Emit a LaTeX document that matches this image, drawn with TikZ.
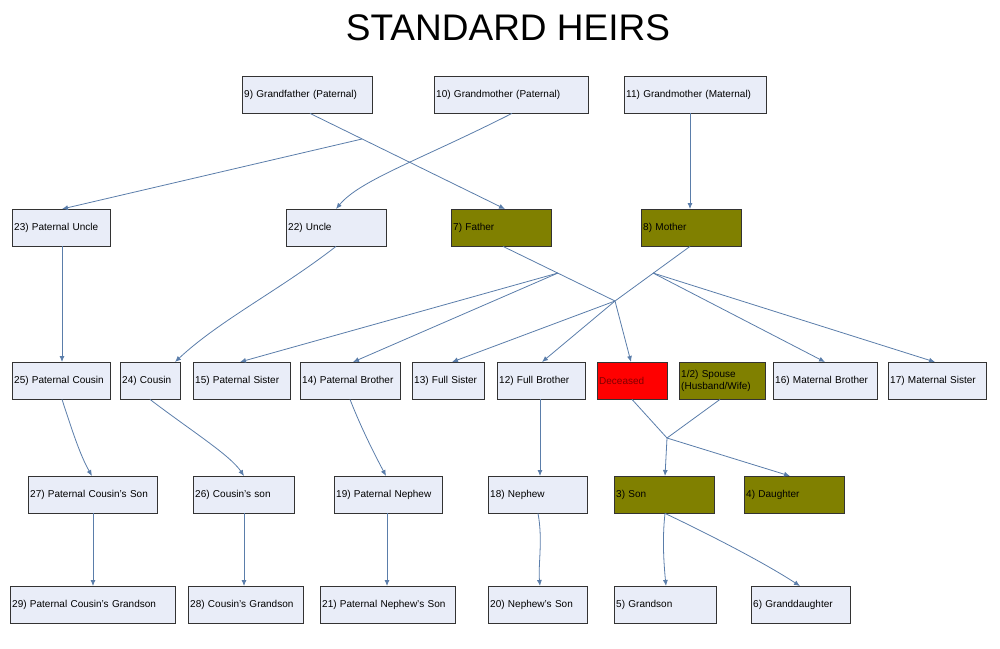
\documentclass[tikz,border=0pt]{standalone}
\usepackage{fontspec}
\setmainfont{Liberation Sans}
\usetikzlibrary{arrows.meta}
\definecolor{boxfill}{HTML}{E9EDF8}
\definecolor{olivef}{HTML}{808000}
\definecolor{arrc}{HTML}{5A7DAA}
\begin{document}
\begin{tikzpicture}[x=1pt,y=-1pt,
  box/.style={draw=black!80,fill=boxfill,anchor=north west,minimum height=37pt,inner xsep=2pt,inner ysep=0pt,align=left,font=\fontsize{10}{12}\selectfont},
  ol/.style={box,fill=olivef},
  arr/.style={draw=arrc,line width=0.8pt,-{Latex[length=6pt,width=5pt]}},
  ln/.style={draw=arrc,line width=0.8pt}]
\useasboundingbox (0,0) rectangle (1000,648);
\node[font=\fontsize{37}{40}\selectfont] (title) at (508,28) {STANDARD HEIRS};
% row 1
\node[box,text width=126pt] (gf) at (242,76) {9) Grandfather (Paternal)};
\node[box,text width=150pt] (gmp) at (434,76) {10) Grandmother (Paternal)};
\node[box,text width=138pt] (gmm) at (624,76) {11) Grandmother (Maternal)};
% row 2
\node[box,text width=94pt] (pu) at (12,209) {23) Paternal Uncle};
\node[box,text width=96pt] (un) at (286,209) {22) Uncle};
\node[ol,text width=96pt] (fa) at (451,209) {7) Father};
\node[ol,text width=96pt] (mo) at (641,209) {8) Mother};
% row 3
\node[box,text width=94pt] (pc) at (12,362) {25) Paternal Cousin};
\node[box,text width=56pt] (co) at (120,362) {24) Cousin};
\node[box,text width=93pt] (ps) at (193,362) {15) Paternal Sister};
\node[box,text width=96pt] (pb) at (300,362) {14) Paternal Brother};
\node[box,text width=68pt] (fs) at (412,362) {13) Full Sister};
\node[box,text width=84pt] (fb) at (497,362) {12) Full Brother};
\node[box,fill=red,text width=66pt,text=red!50!black] (de) at (597,362) {Deceased};
\node[ol,text width=82pt] (sp) at (679,362) {1/2) Spouse\\(Husband/Wife)};
\node[box,text width=100pt] (mb) at (773,362) {16) Maternal Brother};
\node[box,text width=94pt] (ms) at (888,362) {17) Maternal Sister};
% row 4
\node[box,text width=125pt] (pcs) at (28,476) {27) Paternal Cousin's Son};
\node[box,text width=97pt] (cs) at (193,476) {26) Cousin's son};
\node[box,text width=104pt] (pn) at (334,476) {19) Paternal Nephew};
\node[box,text width=95pt] (ne) at (488,476) {18) Nephew};
\node[ol,text width=96pt] (so) at (614,476) {3) Son};
\node[ol,text width=96pt] (da) at (744,476) {4) Daughter};
% row 5
\node[box,text width=161pt] (pcg) at (10,586) {29) Paternal Cousin's Grandson};
\node[box,text width=111pt] (cg) at (188,586) {28) Cousin's Grandson};
\node[box,text width=131pt] (pns) at (320,586) {21) Paternal Nephew's Son};
\node[box,text width=95pt] (nes) at (488,586) {20) Nephew's Son};
\node[box,text width=98pt] (gs) at (614,586) {5) Grandson};
\node[box,text width=95pt] (gd) at (751,586) {6) Granddaughter};
% junctions
\coordinate (jgp) at (362,139);
\coordinate (jf) at (558,273);
\coordinate (jm) at (653,273);
\coordinate (jp) at (615,301);
\coordinate (jd) at (667,438);
% connectors
\draw[arr] (gf.south west)++(68,0) -- (fa.north west -| 505,0);
\draw[arr] (jgp) -- (pu.north west -| 62,0);
\draw[arr] (gmp.south west)++(78,0) .. controls (420,160) and (360,180) .. (336,209);
\draw[arr] (gmm.south west)++(66,0) -- (690,209);
\draw[arr] (pu.south west)++(50,0) -- (62,362);
\draw[arr] (un.south west)++(50,0) .. controls (280,290) and (220,320) .. (175,362);
\draw[ln] (fa.south west)++(52,0) -- (jp);
\draw[ln] (mo.south west)++(49,0) -- (jp);
\draw[arr] (jf) -- (240,362);
\draw[arr] (jf) -- (353,362);
\draw[arr] (jp) -- (452,362);
\draw[arr] (jp) -- (542,362);
\draw[arr] (jp) -- (631,362);
\draw[arr] (jm) -- (825,362);
\draw[arr] (jm) -- (935,362);
\draw[ln] (de.south west)++(35,0) -- (jd);
\draw[ln] (sp.south west)++(41,0) -- (jd);
\draw[arr] (jd) -- (665,476);
\draw[arr] (jd) -- (790,476);
\draw[arr] (pc.south west)++(50,0) .. controls (72,430) and (80,455) .. (92,476);
\draw[arr] (co.south west)++(30,0) .. controls (190,430) and (230,455) .. (244,476);
\draw[arr] (pb.south west)++(50,0) .. controls (362,430) and (375,455) .. (386,476);
\draw[arr] (fb.south west)++(43,0) -- (540,476);
\draw[arr] (pcs.south west)++(65,0) -- (93,586);
\draw[arr] (cs.south west)++(51,0) -- (244,586);
\draw[arr] (pn.south west)++(53,0) -- (387,586);
\draw[arr] (ne.south west)++(50,0) .. controls (543,540) and (538,565) .. (540,586);
\draw[arr] (so.south west)++(51,0) .. controls (662,540) and (664,565) .. (666,586);
\draw[arr] (so.south west)++(51,0) .. controls (700,530) and (760,560) .. (800,586);
\end{tikzpicture}
\end{document}
